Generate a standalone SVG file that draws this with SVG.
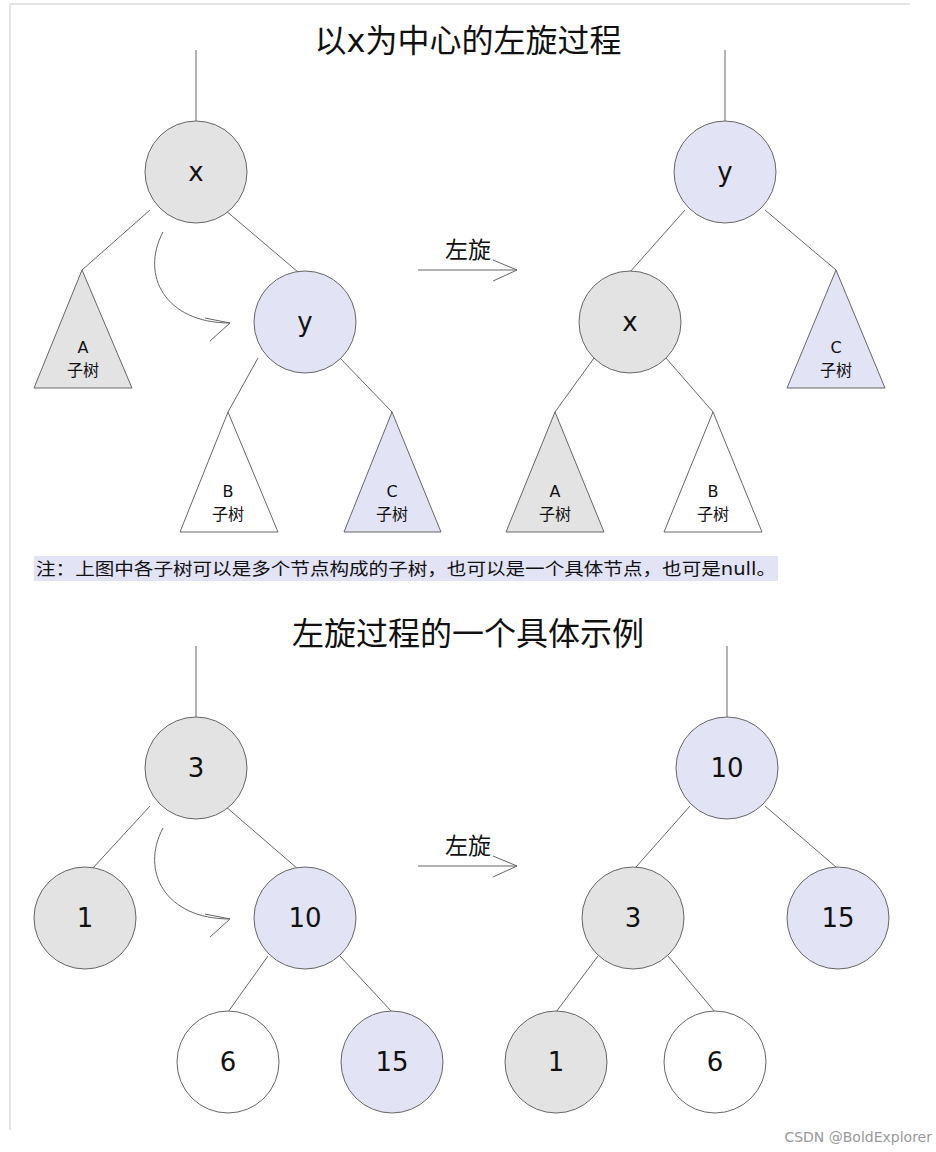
<svg xmlns="http://www.w3.org/2000/svg" width="936" height="1152" viewBox="0 0 936 1152">
<style>
text{font-family:"DejaVu Sans","Noto Sans CJK SC",sans-serif;fill:#111;text-anchor:middle}
.g{fill:#e3e3e3;stroke:#666;stroke-width:1}
.l{fill:#e3e3f6;stroke:#666;stroke-width:1}
.w{fill:#fff;stroke:#666;stroke-width:1}
.e{stroke:#666;stroke-width:1;fill:none}
.n{font-size:26px}
.s{font-size:16px}
</style>
<rect width="936" height="1152" fill="#fff"/>
<path d="M10 1130V4H910" stroke="#ccc" fill="none"/>
<text x="468" y="52" font-size="32">以x为中心的左旋过程</text>
<text x="468" y="645" font-size="32">左旋过程的一个具体示例</text>
<rect x="34" y="556" width="744" height="25" fill="#e3e3f6"/>
<text x="36" y="575" font-size="17" textLength="740" lengthAdjust="spacingAndGlyphs" style="text-anchor:start">注：上图中各子树可以是多个节点构成的子树，也可以是一个具体节点，也可是null。</text>
<g id="connectors" class="e">
<path d="M196 50V121M150 210L82 270M225 210L298 272M258 358L228 412M340 358L392 412"/>
<path d="M163 232C140 275 165 323 230 323M205 318L230 323L210 341"/>
<path d="M418 270H517M493 260L517 270L493 281"/>
<path d="M725 50V121M685 210L630 272M765 210L836 270M594 358L555 412M666 358L713 412"/>
<path d="M196 646V717M150 806L92 869M225 806L298 869M268 956L228 1012M340 956L392 1012"/>
<path d="M163 828C140 871 165 919 230 919M205 914L230 919L210 937"/>
<path d="M418 866H517M493 856L517 866L493 877"/>
<path d="M727 646V717M690 806L636 867M765 806L836 867M598 956L556 1012M668 956L715 1012"/>
</g>
<text x="468" y="258" font-size="23">左旋</text>
<text x="468" y="854" font-size="23">左旋</text>
<g id="x1"><circle cx="196" cy="172" r="51" class="g"/><text x="196" y="181" class="n">x</text></g>
<g id="A1"><path d="M82 270L34 388H132Z" class="g"/><text x="83" y="353" class="s">A</text><text x="83" y="376" class="s">子树</text></g>
<g id="y1"><circle cx="305" cy="322" r="51" class="l"/><text x="305" y="331" class="n">y</text></g>
<g id="B1"><path d="M228 412L180 532H278Z" class="w"/><text x="228" y="497" class="s">B</text><text x="228" y="520" class="s">子树</text></g>
<g id="C1"><path d="M392 412L344 532H441Z" class="l"/><text x="392" y="497" class="s">C</text><text x="392" y="520" class="s">子树</text></g>
<g id="y2"><circle cx="725" cy="172" r="51" class="l"/><text x="725" y="181" class="n">y</text></g>
<g id="x2"><circle cx="630" cy="322" r="51" class="g"/><text x="630" y="331" class="n">x</text></g>
<g id="C2"><path d="M836 270L787 388H885Z" class="l"/><text x="836" y="353" class="s">C</text><text x="836" y="376" class="s">子树</text></g>
<g id="A2"><path d="M555 412L506 532H604Z" class="g"/><text x="555" y="497" class="s">A</text><text x="555" y="520" class="s">子树</text></g>
<g id="B2"><path d="M713 412L664 532H762Z" class="w"/><text x="713" y="497" class="s">B</text><text x="713" y="520" class="s">子树</text></g>
<g id="n3a"><circle cx="196" cy="768" r="51" class="g"/><text x="196" y="777" class="n">3</text></g>
<g id="n1a"><circle cx="85" cy="918" r="51" class="g"/><text x="85" y="927" class="n">1</text></g>
<g id="n10a"><circle cx="305" cy="918" r="51" class="l"/><text x="305" y="927" class="n">10</text></g>
<g id="n6a"><circle cx="228" cy="1062" r="51" class="w"/><text x="228" y="1071" class="n">6</text></g>
<g id="n15a"><circle cx="392" cy="1062" r="51" class="l"/><text x="392" y="1071" class="n">15</text></g>
<g id="n10b"><circle cx="727" cy="768" r="51" class="l"/><text x="727" y="777" class="n">10</text></g>
<g id="n3b"><circle cx="633" cy="918" r="51" class="g"/><text x="633" y="927" class="n">3</text></g>
<g id="n15b"><circle cx="838" cy="918" r="51" class="l"/><text x="838" y="927" class="n">15</text></g>
<g id="n1b"><circle cx="556" cy="1062" r="51" class="g"/><text x="556" y="1071" class="n">1</text></g>
<g id="n6b"><circle cx="715" cy="1062" r="51" class="w"/><text x="715" y="1071" class="n">6</text></g>
<text x="932" y="1142" font-size="14" style="text-anchor:end;fill:#999">CSDN @BoldExplorer</text>
</svg>
